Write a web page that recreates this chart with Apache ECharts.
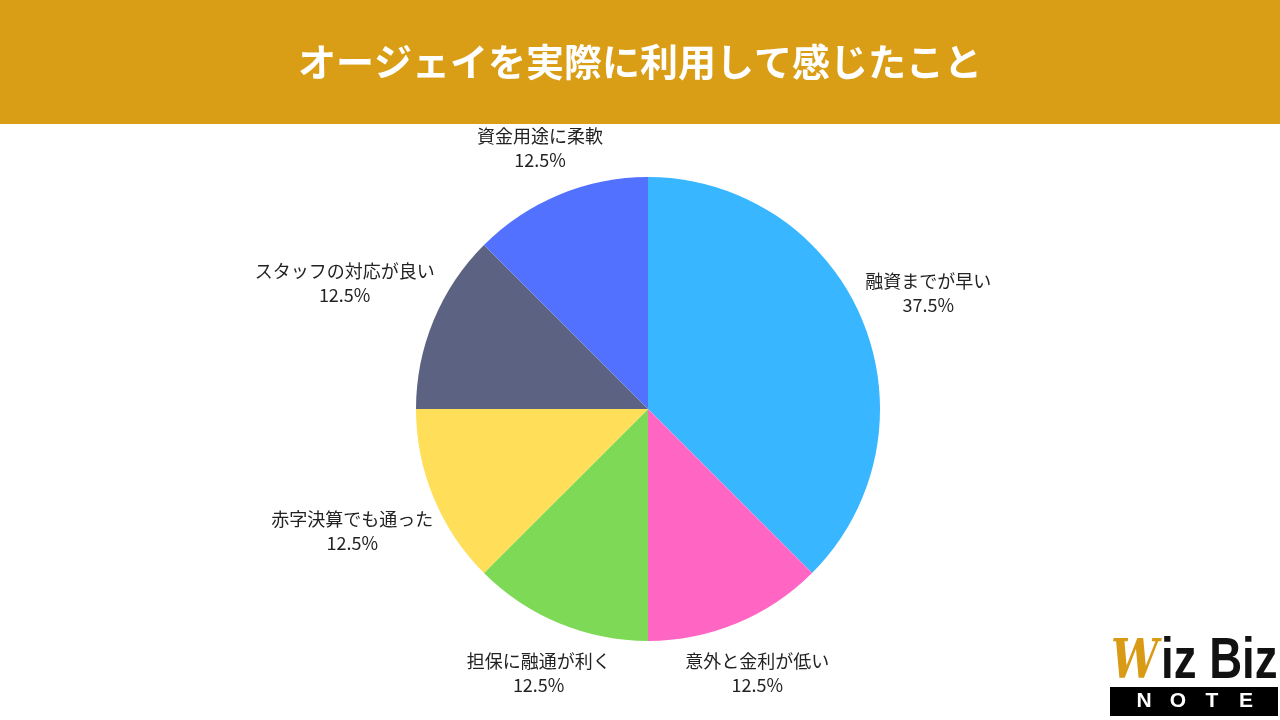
<!DOCTYPE html>
<html>
<head>
<meta charset="utf-8">
<script src="https://cdn.jsdelivr.net/npm/echarts@6/dist/echarts.min.js"></script>
<style>
html,body{margin:0;padding:0;background:#ffffff;}
#chart{width:1280px;height:720px;}
</style>
</head>
<body>
<div id="chart"></div>
<script>
// ---- data ----
const titleText = 'オージェイを実際に利用して感じたこと';
const categories = ['融資までが早い', '意外と金利が低い', '担保に融通が利く', '赤字決算でも通った', 'スタッフの対応が良い', '資金用途に柔軟'];
const values = [37.5, 12.5, 12.5, 12.5, 12.5, 12.5];
const sliceColors = ['#38B6FF', '#FF66C4', '#7ED957', '#FFDE59', '#5C6382', '#5271FF'];
const logoNoteLetters = ['N', 'O', 'T', 'E'];

const FONT = '"Noto Sans CJK JP", "Noto Sans", sans-serif';

const chart = echarts.init(document.getElementById('chart'), null, { renderer: 'canvas' });

// place each label centred on its slice's mid-angle ray, just outside the pie,
// using the library's own label-line geometry
function placeLabel(params) {
  const pts = params.labelLinePoints;
  if (!pts || pts.length < 2) return {};
  const vx = pts[1][0] - pts[0][0], vy = pts[1][1] - pts[0][1];
  const len = Math.hypot(vx, vy) || 1;
  const ux = vx / len, uy = vy / len;
  const hw = params.labelRect.width / 2, hh = params.labelRect.height / 2;
  const gap = 4;
  const d = gap + hw * Math.abs(ux) + hh * Math.abs(uy);
  return { x: pts[0][0] + ux * d, y: pts[0][1] + uy * d, align: 'center', verticalAlign: 'middle' };
}

const pieData = categories.map((name, i) => ({
  name: name,
  value: values[i],
  itemStyle: { color: sliceColors[i] }
}));

const noteGraphics = logoNoteLetters.map((ch, i) => ({
  type: 'text',
  x: 1144 + i * 34,
  y: 701,
  style: { text: ch, fill: '#ffffff', font: 'bold 21px "Liberation Sans", Arial, sans-serif', align: 'center', verticalAlign: 'middle' },
  z: 12
}));

const option = {
  backgroundColor: '#ffffff',
  animation: false,
  title: {
    text: titleText,
    left: 'center',
    top: 35,
    textStyle: { color: '#ffffff', fontSize: 38, fontWeight: 'bold', fontFamily: FONT, lineHeight: 44 }
  },
  graphic: [
    { type: 'rect', shape: { x: 0, y: 0, width: 1280, height: 124 }, style: { fill: '#DA9E16' }, z: -1, silent: true },
    { type: 'text', x: 1111, y: 637, scaleX: 0.78, style: { text: 'W', fill: '#D99A16', font: 'italic bold 54px "DejaVu Serif", serif' }, z: 10 },
    { type: 'text', x: 1161, y: 634, scaleX: 0.8, style: { text: 'iz Biz', fill: '#111111', font: 'bold 57px "Liberation Sans", Arial, sans-serif' }, z: 11 },
    { type: 'rect', shape: { x: 1110, y: 687, width: 168, height: 29 }, style: { fill: '#000000' }, z: 10 }
  ].concat(noteGraphics),
  series: [{
    type: 'pie',
    center: [648, 409],
    radius: 232,
    startAngle: 90,
    clockwise: true,
    avoidLabelOverlap: false,
    silent: true,
    itemStyle: { borderWidth: 0 },
    label: {
      show: true,
      position: 'outside',
      formatter: '{b}\n{c}%',
      color: '#222222',
      fontSize: 18,
      lineHeight: 24,
      fontFamily: FONT
    },
    labelLine: { show: true, length: 10, length2: 0, lineStyle: { opacity: 0 } },
    labelLayout: placeLabel,
    emphasis: { disabled: true },
    data: pieData
  }]
};

chart.setOption(option);
</script>
</body>
</html>
